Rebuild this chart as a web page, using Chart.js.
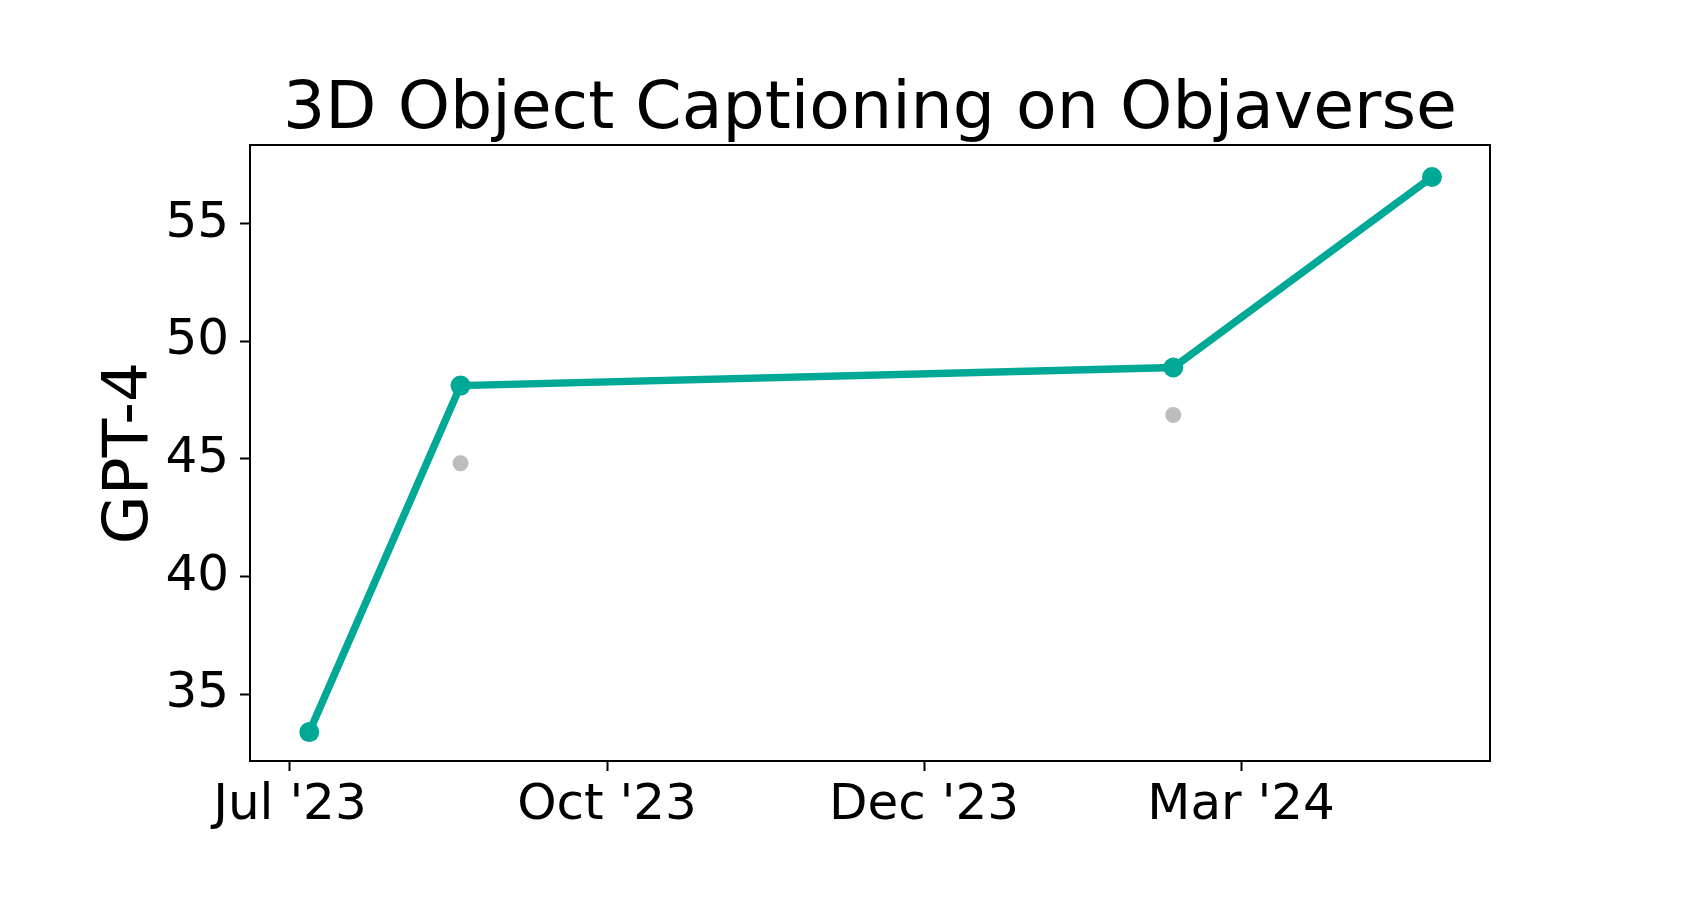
<!DOCTYPE html>
<html>
<head>
<meta charset="utf-8">
<title>3D Object Captioning on Objaverse</title>
<script src="https://cdn.jsdelivr.net/npm/chart.js@4"></script>
<style>
  body { margin: 0; background: #fff; }
  canvas { display: block; }
</style>
</head>
<body>
<canvas id="chart" width="1700" height="900"></canvas>
<script>
// x positions are in "tick units": Jul '23 = 0, Oct '23 = 1, Dec '23 = 2, Mar '24 = 3
const xTickPos = [0, 1, 2, 3];
const xTickLabels = ["Jul '23", "Oct '23", "Dec '23", "Mar '24"];
const yTicks = [35, 40, 45, 50, 55];

const gpt4X = [0.061, 0.538, 2.786, 3.602];
const gpt4Y = [33.39, 48.12, 48.89, 56.99];

// faint grey points under two of the releases
const greyX = [0.538, 2.786];
const greyY = [44.82, 46.87];

const TEAL = '#00a896';
const GREY = '#bdbdbd';

Chart.defaults.font.family = "'DejaVu Sans', sans-serif";
Chart.defaults.color = '#000';

// plot frame (matplotlib style box)
const frame = {
  id: 'frame',
  afterDraw(chart) {
    const a = chart.chartArea;
    const ctx = chart.ctx;
    ctx.save();
    ctx.strokeStyle = '#000';
    ctx.lineWidth = 2;
    ctx.strokeRect(a.left, a.top, a.right - a.left, a.bottom - a.top);
    ctx.restore();
  }
};

const ctx = document.getElementById('chart').getContext('2d');
new Chart(ctx, {
  type: 'line',
  data: {
    datasets: [
      {
        label: 'GPT-4',
        data: gpt4X.map((x, i) => ({ x: x, y: gpt4Y[i] })),
        borderColor: TEAL,
        backgroundColor: TEAL,
        borderWidth: 7.5,
        pointRadius: 10,
        pointBorderWidth: 0,
        pointBackgroundColor: TEAL,
        tension: 0,
        order: 1,
      },
      {
        label: 'other',
        data: greyX.map((x, i) => ({ x: x, y: greyY[i] })),
        showLine: false,
        pointRadius: 8,
        pointBorderWidth: 0,
        pointBackgroundColor: GREY,
        borderColor: GREY,
        order: 2,
      },
    ],
  },
  options: {
    responsive: false,
    animation: false,
    layout: { padding: { left: 40, right: 0, top: 0, bottom: 0 } },
    plugins: {
      legend: { display: false },
      tooltip: { enabled: false },
      title: {
        display: true,
        text: '3D Object Captioning on Objaverse',
        color: '#000',
        font: { size: 66.5, weight: 'normal', lineHeight: 1 },
        padding: { top: 77, bottom: 1.5 },
      },
    },
    scales: {
      x: {
        type: 'linear',
        position: 'bottom',
        min: -0.126,
        max: 3.785,
        afterBuildTicks: (scale) => {
          scale.ticks = xTickPos.map(v => ({ value: v }));
        },
        afterFit: (scale) => { scale.height = 139; },
        ticks: {
          font: { size: 50 },
          color: '#000',
          padding: 5,
          maxRotation: 0,
          autoSkip: false,
          callback: (v) => xTickLabels[xTickPos.indexOf(v)],
        },
        grid: {
          drawOnChartArea: false,
          drawTicks: true,
          tickLength: 10,
          tickColor: '#000',
          tickWidth: 2,
        },
        border: { display: false },
      },
      y: {
        type: 'linear',
        position: 'left',
        min: 32.16,
        max: 58.35,
        afterBuildTicks: (scale) => {
          scale.ticks = yTicks.map(v => ({ value: v }));
        },
        afterFit: (scale) => { scale.width = 210; },
        ticks: {
          font: { size: 50 },
          color: '#000',
          padding: 11,
        },
        grid: {
          drawOnChartArea: false,
          drawTicks: true,
          tickLength: 10,
          tickColor: '#000',
          tickWidth: 2,
        },
        border: { display: false },
        title: {
          display: true,
          text: 'GPT-4',
          color: '#000',
          font: { size: 63, lineHeight: 1 },
          padding: { top: 59, bottom: 0 },
        },
      },
      yRight: {
        type: 'linear',
        position: 'right',
        min: 0,
        max: 1,
        afterFit: (scale) => { scale.width = 210; },
        ticks: { display: false },
        grid: { display: false, drawTicks: false },
        border: { display: false },
      },
    },
  },
  plugins: [frame],
});
</script>
</body>
</html>
